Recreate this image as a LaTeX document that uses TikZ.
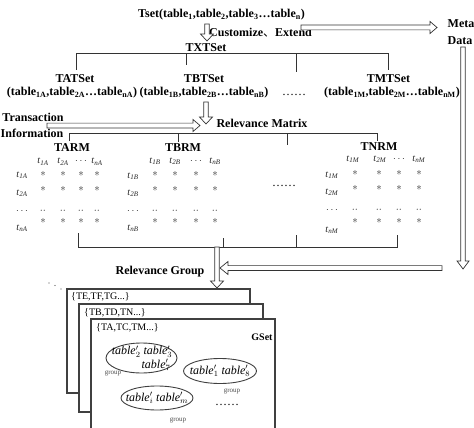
\documentclass[tikz,border=0pt]{standalone}
\usepackage{fontspec}
\setmainfont{Liberation Serif}
\newfontfamily\cjk{Noto Sans CJK SC}
\usetikzlibrary{calc,shapes.geometric}
\newcommand\tsb[1]{\textit{t}\textsubscript{\textit{#1}}}
\newcommand\tbp[1]{\textit{table}$^{\prime}_{#1}$}
\newcommand\hdts{$\cdots$}
\newcommand\ddts{$\cdot\cdot$}
\newcommand\harrow[5]{%
  \coordinate (haC) at ($(#2)!#5!(#1)$);
  \draw[hollow] ($(#1)!#3!90:(#2)$) -- ($(haC)!#3!-90:(#1)$) -- ($(haC)!#4!-90:(#1)$) -- (#2)
    -- ($(haC)!#4!90:(#1)$) -- ($(haC)!#3!90:(#1)$) -- ($(#1)!#3!-90:(#2)$) -- cycle;}
\tikzset{
  bt/.style={inner sep=0pt, font=\fontsize{12}{14}\selectfont\bfseries},
  rt/.style={inner sep=0pt, font=\fontsize{12}{14}\selectfont},
  ml/.style={inner sep=0pt, font=\fontsize{10}{11}\selectfont, text=black!85, text height=6pt, text depth=2pt},
  cell/.style={inner sep=0pt, font=\fontsize{11}{12}\selectfont, text=black!80, text height=5pt, text depth=0pt},
  grp/.style={inner sep=0pt, font=\fontsize{7}{8}\selectfont, text=black!70},
  lbl/.style={inner sep=0pt, font=\fontsize{10}{12}\selectfont, anchor=west},
  it/.style={inner sep=0pt, font=\fontsize{12}{14}\selectfont, text height=8pt, text depth=2pt},
  ln/.style={draw=black!80, line width=0.9pt},
  hollow/.style={draw=black!80, line width=0.7pt, fill=white, line join=miter},
  box/.style={draw=black!75, line width=1.1pt, fill=white},
  ell/.style={ellipse, draw=black!75, line width=0.9pt, inner sep=0pt},
}
\begin{document}
\begin{tikzpicture}[x=1pt,y=-1pt]
\useasboundingbox[fill=white] (0,0) rectangle (474,428);

% --- top part
\node[bt] (tset) at (221.5,15) {Tset(table\textsubscript{1},table\textsubscript{2},table\textsubscript{3}…table\textsubscript{n})};
\node[bt, anchor=west] (cust) at (209,33) {Customize{\cjk\mdseries 、}Extend};
\node[bt] (txt) at (206,47.5) {TXTSet};
\node[bt] (meta) at (461,24) {Meta};
\node[bt] (data) at (460,41) {Data};

\coordinate (a1s) at (207,24); \coordinate (a1e) at (207,41);
\harrow{a1s}{a1e}{2.3pt}{6.5pt}{7pt}
\coordinate (a2s) at (301,27.5); \coordinate (a2e) at (437,27.5);
\harrow{a2s}{a2e}{2.4pt}{6pt}{7pt}
\coordinate (a3s) at (463,47); \coordinate (a3e) at (463,269);
\harrow{a3s}{a3e}{2.2pt}{6pt}{8pt}

% TXTSet bracket
\node[bt] (tat) at (75,78.5) {TATSet};
\node[bt] (tbt) at (204,79) {TBTSet};
\node[bt] (tmt) at (388.5,79) {TMTSet};
\node[bt] (tatl) at (72,93) {(table\textsubscript{1A},table\textsubscript{2A}…table\textsubscript{nA})};
\node[bt] (tbtl) at (204,93) {(table\textsubscript{1B},table\textsubscript{2B}…table\textsubscript{nB})};
\node[bt] (tmtl) at (392,93) {(table\textsubscript{1M},table\textsubscript{2M}…table\textsubscript{nM})};
\node[rt] (tdots) at (294,95) {……};
\coordinate (b1l) at (76,53.5); \coordinate (b1r) at (388,53.5);
\coordinate (b1m1) at (186,53.5); \coordinate (b1m2) at (296,53.5);
\draw[ln] (76,70) -- (b1l) -- (b1r) -- (388,70);
\draw[ln] (b1m1) -- (186,65);
\draw[ln] (b1m2) -- (296,72);

% Relevance matrix
\coordinate (a4s) at (206,102); \coordinate (a4e) at (206,124);
\harrow{a4s}{a4e}{2.3pt}{6.5pt}{7pt}
\node[bt] (trans) at (33,117) {Transaction};
\node[bt] (info) at (32,133) {Information};
\coordinate (a5s) at (47,125.5); \coordinate (a5e) at (200,125.5);
\harrow{a5s}{a5e}{2.4pt}{6pt}{7pt}
\node[bt] (rm) at (262,123) {Relevance Matrix};

\coordinate (b2l) at (69,133); \coordinate (b2r) at (377,133);
\coordinate (b2m1) at (178,133); \coordinate (b2m2) at (287,133);
\draw[ln] (69,141) -- (b2l) -- (b2r) -- (377,141);
\draw[ln] (b2m1) -- (178,142);
\draw[ln] (b2m2) -- (287,145);

\node[bt] (tarm) at (72,148) {TARM};
\node[bt] (tbrm) at (183,148) {TBRM};
\node[bt, text height=8pt, text depth=0pt] (tnrm) at (379,146) {TNRM};

% TARM matrix
\foreach \x/\h [count=\c] in {43/\tsb{1A},63/\tsb{2A},81/\hdts,97/\tsb{nA}}
  \node[ml] (A-h\c) at (\x,161.5) {\h};
\foreach \y/\l [count=\r] in {175/\tsb{1A},193/\tsb{2A},211/\hdts,228/\tsb{nA}}
  \node[ml] (A-r\r) at (22,\y) {\l};
\foreach \y [count=\r] in {173.5,189,211,221}
  \foreach \x [count=\c] in {43,63,81,97}
    \node[cell] (A-\r-\c) at (\x,\y) {\ifnum\r=3 \ddts\else$\ast$\fi};

% TBRM matrix
\foreach \x/\h [count=\c] in {155/\tsb{1B},175/\tsb{2B},196/\hdts,215/\tsb{nB}}
  \node[ml] (B-h\c) at (\x,161) {\h};
\foreach \y/\l [count=\r] in {176/\tsb{1B},193/\tsb{2B},211/\hdts,228/\tsb{nB}}
  \node[ml] (B-r\r) at (133,\y) {\l};
\foreach \y [count=\r] in {173.5,189,211,221}
  \foreach \x [count=\c] in {155,175,196,215}
    \node[cell] (B-\r-\c) at (\x,\y) {\ifnum\r=3 \ddts\else$\ast$\fi};

\node[rt] (mdots) at (284,186) {……};

% TNRM matrix
\foreach \x/\h [count=\c] in {353/\tsb{1M},380/\tsb{2M},399/\hdts,419/\tsb{nM}}
  \node[ml] (N-h\c) at (\x,159) {\h};
\foreach \y/\l [count=\r] in {175/\tsb{1M},192/\tsb{2M},210/\hdts,230/\tsb{nM}}
  \node[ml] (N-r\r) at (332,\y) {\l};
\foreach \y [count=\r] in {172.5,188,210,221}
  \foreach \x [count=\c] in {355,379,399,419}
    \node[cell] (N-\r-\c) at (\x,\y) {\ifnum\r=3 \ddts\else$\ast$\fi};

% Relevance group bracket
\coordinate (b3l) at (78,247); \coordinate (b3r) at (397,247);
\draw[ln] (78,233) -- (b3l) -- (b3r) -- (397,235);
\draw[ln] (223,238) -- (223,247);
\draw[ln] (296,235) -- (296,247);

\coordinate (a7s) at (442,268); \coordinate (a7e) at (220,268);
\harrow{a7s}{a7e}{2.4pt}{6.5pt}{8pt}
\coordinate (a6s) at (217,247); \coordinate (a6e) at (217,288);
\harrow{a6s}{a6e}{2.3pt}{6.5pt}{7pt}
\node[bt] (rg) at (160,272) {Relevance Group};

% stacked boxes
\foreach \p/\q [count=\i] in {49/283,55/285.5,61/289}
  \fill[black!70] (\p,\q) circle (0.7pt);
\draw[box] (67,289) rectangle (250,393);
\draw[box] (79,304) rectangle (263,412);
\fill[white] (91,319) rectangle (275,430);
\draw[box, fill=none] (91,430) -- (91,319) -- (275,319) -- (275,430);

\node[lbl] (g1) at (71,297) {\{TE,TF,TG...\}};
\node[lbl] (g2) at (84,313) {\{TB,TD,TN...\}};
\node[lbl] (g3) at (96,328) {\{TA,TC,TM...\}};
\node[inner sep=0pt, font=\fontsize{10}{12}\selectfont\bfseries] (gset) at (262,337) {GSet};

\node[ell, minimum width=71pt, minimum height=30pt] (e1) at (141.5,358) {};
\node[it] (e1a) at (142,351.5) {\tbp{2} \tbp{3}};
\node[it] (e1b) at (156,365) {\tbp{7}};
\node[grp] (gr1) at (113,373) {group};

\node[ell, minimum width=73pt, minimum height=25pt] (e2) at (220,371) {};
\node[it] (e2a) at (220,371) {\tbp{1} \tbp{8}};
\node[grp] (gr2) at (232,391) {group};

\node[ell, minimum width=72pt, minimum height=24pt] (e3) at (157,398) {};
\node[it] (e3a) at (157,398) {\tbp{i} \tbp{m}};
\node[grp] (gr3) at (178,420) {group};

\node[rt] (bdots) at (227,405) {……};
\end{tikzpicture}
\end{document}
